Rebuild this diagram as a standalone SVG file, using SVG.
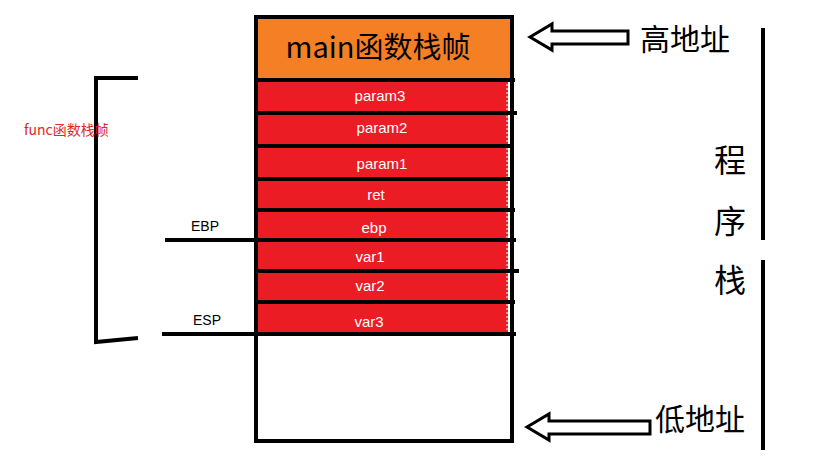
<svg xmlns="http://www.w3.org/2000/svg" width="816" height="460" viewBox="0 0 816 460">
<style>
.k{stroke:#000;stroke-width:4;fill:none}
.w{font-family:"Liberation Sans",sans-serif;font-size:15px;fill:#fff;text-anchor:middle}
.b{font-family:"Liberation Sans",sans-serif;font-size:14px;fill:#000}
.c{font-family:"Noto Sans CJK SC",sans-serif;fill:#000}
</style>
<rect width="816" height="460" fill="#fff"/>
<g id="main"><rect x="256" y="17" width="256" height="63" fill="#f47f24"/>
<text x="378" y="58" class="c" font-size="29" text-anchor="middle">main函数栈帧</text></g>
<g id="func">
<rect x="257" y="82" width="251" height="252" fill="#ec1c24"/>
<line x1="507" y1="84" x2="507" y2="334" stroke="#fff" stroke-dasharray="2,2"/>
<text x="380" y="101" class="w">param3</text>
<text x="382" y="133" class="w">param2</text>
<text x="382" y="169" class="w">param1</text>
<text x="376" y="200" class="w">ret</text>
<text x="374" y="233" class="w">ebp</text>
<text x="370" y="262" class="w">var1</text>
<text x="370" y="291" class="w">var2</text>
<text x="369" y="327" class="w">var3</text>
</g>
<g id="connectors">
<rect x="256" y="17" width="256" height="424" class="k"/>
<path class="k" d="M256 80H515M256 113H517M256 146H513M256 179H513M256 210H515M165 240H516M256 271H519M256 302H515M162 334H516"/>
<path class="k" d="M138 78H96V342L138 338M763 28V240M763 260V450"/>
<path d="M530 37L552 24V31H628V44H552V50Z" fill="#fff" stroke="#000" stroke-width="3"/>
<path d="M527 427L549 414V421H650V434H549V440Z" fill="#fff" stroke="#000" stroke-width="3"/>
</g>
<g id="labels">
<text x="24" y="135" font-family="Noto Sans CJK SC,sans-serif" font-size="14" fill="#e0282a">func函数栈帧</text>
<text x="191" y="231" class="b">EBP</text>
<text x="193" y="325" class="b">ESP</text>
<text x="640" y="50" class="c" font-size="30">高地址</text>
<text x="655" y="430" class="c" font-size="30">低地址</text>
<text x="714" y="172" class="c" font-size="32">程</text>
<text x="714" y="233" class="c" font-size="32">序</text>
<text x="714" y="292" class="c" font-size="32">栈</text>
</g>
</svg>
